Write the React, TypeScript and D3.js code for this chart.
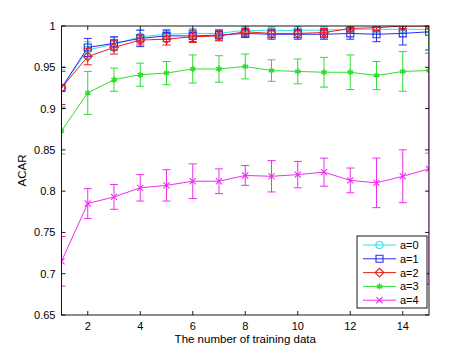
import { useEffect, useRef } from "react";
import * as d3 from "d3";

const trainingSizes = [1, 2, 3, 4, 5, 6, 7, 8, 9, 10, 11, 12, 13, 14, 15];

const seriesNames = ["a=0", "a=1", "a=2", "a=3", "a=4"];

const acar0 = [0.925, 0.971, 0.978, 0.987, 0.990, 0.991, 0.991, 0.995, 0.994, 0.995, 0.995, 0.996, 0.996, 0.996, 0.996];
const err0 = [0.022, 0.010, 0.008, 0.008, 0.006, 0.006, 0.005, 0.004, 0.005, 0.005, 0.004, 0.004, 0.005, 0.005, 0.004];

const acar1 = [0.925, 0.974, 0.979, 0.985, 0.988, 0.988, 0.989, 0.991, 0.990, 0.990, 0.990, 0.991, 0.990, 0.991, 0.993];
const err1 = [0.025, 0.011, 0.008, 0.010, 0.007, 0.007, 0.006, 0.005, 0.006, 0.006, 0.006, 0.007, 0.009, 0.014, 0.022];

const acar2 = [0.925, 0.963, 0.974, 0.983, 0.984, 0.987, 0.988, 0.993, 0.991, 0.991, 0.992, 0.997, 0.998, 1.0, 1.0];
const err2 = [0.020, 0.010, 0.008, 0.006, 0.007, 0.007, 0.006, 0.004, 0.005, 0.005, 0.005, 0.004, 0.004, 0.003, 0.003];

const acar3 = [0.873, 0.919, 0.935, 0.941, 0.943, 0.948, 0.948, 0.951, 0.946, 0.945, 0.944, 0.944, 0.940, 0.945, 0.946];
const err3 = [0.028, 0.026, 0.014, 0.014, 0.014, 0.017, 0.016, 0.015, 0.013, 0.015, 0.018, 0.021, 0.017, 0.024, 0.100];

const acar4 = [0.715, 0.785, 0.793, 0.804, 0.807, 0.812, 0.812, 0.819, 0.818, 0.820, 0.823, 0.813, 0.810, 0.818, 0.827];
const err4 = [0.030, 0.018, 0.015, 0.016, 0.019, 0.021, 0.015, 0.012, 0.019, 0.016, 0.017, 0.015, 0.030, 0.032, 0.140];

const xTicks = [2, 4, 6, 8, 10, 12, 14];
const yTicks = [0.65, 0.7, 0.75, 0.8, 0.85, 0.9, 0.95, 1];

const COLORS = ["#33e0e0", "#2a2af0", "#ee1c1c", "#2ede2e", "#ee2eee"];
const SYMBOLS = [d3.symbolCircle, d3.symbolSquare2, d3.symbolDiamond2, d3.symbolAsterisk, d3.symbolX];
const SYMBOL_SIZES = [40, 62, 48, 26, 26];

const FONT = "'Liberation Sans', Arial, Helvetica, sans-serif";

export default function App() {
  const svgRef = useRef<SVGSVGElement>(null);

  useEffect(() => {
    if (!svgRef.current) return;
    const width = 474;
    const height = 354;
    const margin = { top: 26, right: 45, bottom: 39, left: 61.5 };
    const w = width - margin.left - margin.right;
    const h = height - margin.top - margin.bottom;

    const svg = d3.select(svgRef.current);
    svg.selectAll("*").remove();
    svg.attr("viewBox", `0 0 ${width} ${height}`);

    svg.append("rect").attr("width", width).attr("height", height).attr("fill", "white");

    svg
      .append("defs")
      .append("clipPath")
      .attr("id", "plot-clip")
      .append("rect")
      .attr("width", w)
      .attr("height", h);

    const g = svg.append("g").attr("transform", `translate(${margin.left},${margin.top})`);

    const x = d3.scaleLinear().domain([1, 15]).range([0, w]);
    const y = d3.scaleLinear().domain([0.65, 1]).range([h, 0]);

    const series = [
      { values: acar0, errs: err0 },
      { values: acar1, errs: err1 },
      { values: acar2, errs: err2 },
      { values: acar3, errs: err3 },
      { values: acar4, errs: err4 },
    ];

    const plot = g.append("g").attr("clip-path", "url(#plot-clip)");
    const line = d3
      .line<number>()
      .x((_, i) => x(trainingSizes[i]))
      .y((d) => y(d));

    series.forEach((s, si) => {
      const color = COLORS[si];
      const sg = plot.append("g");
      // error bars
      s.values.forEach((v, i) => {
        const cx = x(trainingSizes[i]);
        const lo = y(v - s.errs[i]);
        const hi = y(v + s.errs[i]);
        sg.append("line").attr("x1", cx).attr("x2", cx).attr("y1", lo).attr("y2", hi)
          .attr("stroke", color).attr("stroke-width", 1);
        [lo, hi].forEach((yy) => {
          sg.append("line").attr("x1", cx - 4).attr("x2", cx + 4).attr("y1", yy).attr("y2", yy)
            .attr("stroke", color).attr("stroke-width", 1);
        });
      });
      sg.append("path").attr("d", line(s.values)).attr("fill", "none")
        .attr("stroke", color).attr("stroke-width", 1);
      const sym = d3.symbol().type(SYMBOLS[si]).size(SYMBOL_SIZES[si]);
      sg.selectAll(".mk")
        .data(s.values)
        .join("path")
        .attr("transform", (d, i) => `translate(${x(trainingSizes[i])},${y(d)})`)
        .attr("d", sym())
        .attr("fill", "none")
        .attr("stroke", color)
        .attr("stroke-width", si === 3 ? 1.6 : 1.1);
    });

    // axes box with inward ticks (matlab style)
    const tickLen = 4;
    const axisG = g.append("g").attr("stroke", "#000").attr("stroke-width", 0.9);
    axisG.append("rect").attr("width", w).attr("height", h).attr("fill", "none");
    xTicks.forEach((t) => {
      axisG.append("line").attr("x1", x(t)).attr("x2", x(t)).attr("y1", h).attr("y2", h - tickLen);
      axisG.append("line").attr("x1", x(t)).attr("x2", x(t)).attr("y1", 0).attr("y2", tickLen);
    });
    yTicks.forEach((t) => {
      axisG.append("line").attr("x1", 0).attr("x2", tickLen).attr("y1", y(t)).attr("y2", y(t));
      axisG.append("line").attr("x1", w).attr("x2", w - tickLen).attr("y1", y(t)).attr("y2", y(t));
    });

    // tick labels
    g.selectAll(".xt")
      .data(xTicks)
      .join("text")
      .attr("x", (d) => x(d))
      .attr("y", h + 15)
      .attr("text-anchor", "middle")
      .style("font-family", FONT)
      .style("font-size", "11px")
      .text((d) => String(d));

    g.selectAll(".yt")
      .data(yTicks)
      .join("text")
      .attr("x", -6)
      .attr("y", (d) => y(d) + 4)
      .attr("text-anchor", "end")
      .style("font-family", FONT)
      .style("font-size", "11px")
      .text((d) => String(+d.toFixed(2)));

    // axis labels
    g.append("text")
      .attr("x", w / 2)
      .attr("y", h + 28)
      .attr("text-anchor", "middle")
      .style("font-family", FONT)
      .style("font-size", "11.5px")
      .text("The number of training data");

    g.append("text")
      .attr("transform", "rotate(-90)")
      .attr("x", -h / 2)
      .attr("y", -36)
      .attr("text-anchor", "middle")
      .style("font-family", FONT)
      .style("font-size", "11.5px")
      .text("ACAR");

    // legend
    const legend = svg.append("g").attr("transform", "translate(357,236)");
    legend.append("rect").attr("width", 70).attr("height", 72)
      .attr("fill", "white").attr("stroke", "#000").attr("stroke-width", 0.9);
    seriesNames.forEach((name, i) => {
      const ly = 9 + i * 13.8;
      const color = COLORS[i];
      legend.append("line").attr("x1", 6).attr("x2", 39).attr("y1", ly).attr("y2", ly)
        .attr("stroke", color).attr("stroke-width", 1);
      legend.append("path")
        .attr("transform", `translate(22.5,${ly})`)
        .attr("d", d3.symbol().type(SYMBOLS[i]).size(SYMBOL_SIZES[i])())
        .attr("fill", "none")
        .attr("stroke", color)
        .attr("stroke-width", i === 3 ? 1.6 : 1.1);
      legend.append("text")
        .attr("x", 43)
        .attr("y", ly + 4)
        .style("font-family", FONT)
        .style("font-size", "11px")
        .text(name);
    });
  }, []);

  return (
    <svg
      ref={svgRef}
      width={474}
      height={354}
      style={{ position: "absolute", left: 0, top: 0, display: "block" }}
    />
  );
}
